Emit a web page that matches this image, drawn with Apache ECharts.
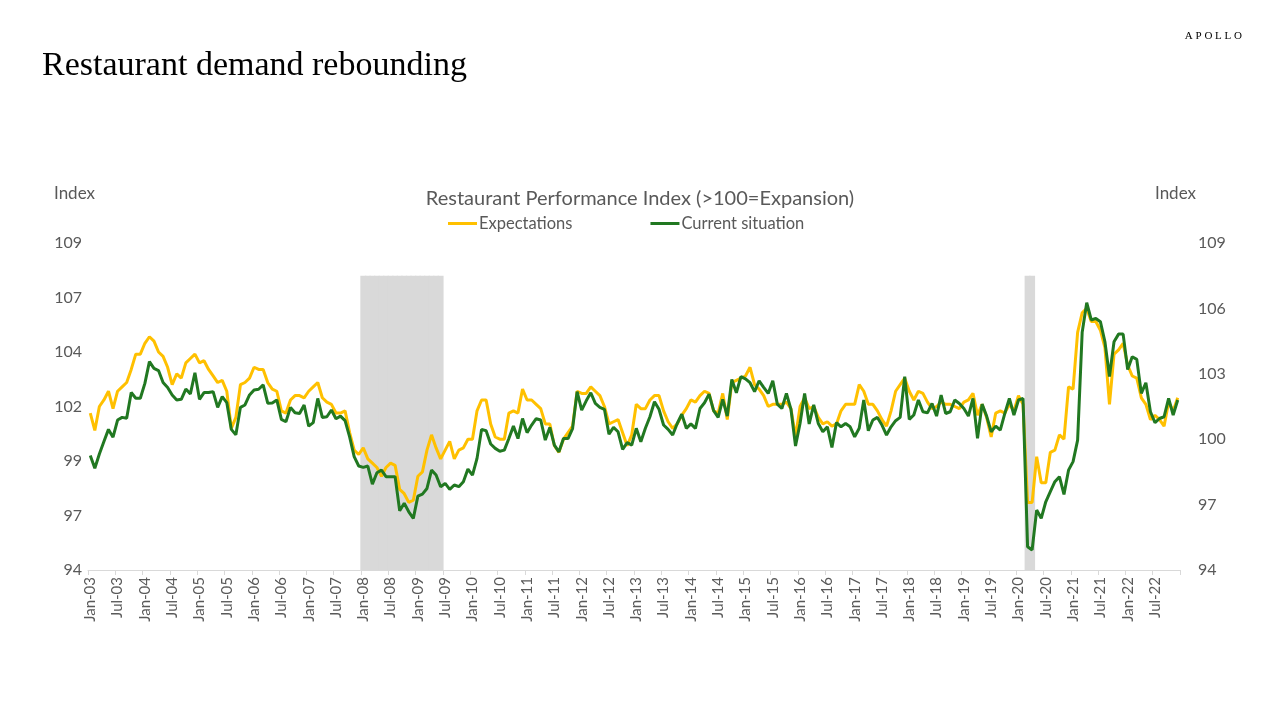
<!DOCTYPE html>
<html>
<head>
<meta charset="utf-8">
<script src="https://cdn.jsdelivr.net/npm/echarts@6/dist/echarts.min.js"></script>
<style>html,body{margin:0;padding:0;background:#fff}#chart{width:1280px;height:720px}</style>
</head>
<body>
<div id="chart"></div>
<script>
const monthNames = ['Jan','Feb','Mar','Apr','May','Jun','Jul','Aug','Sep','Oct','Nov','Dec'];
const firstYear = 2003;
const lastYear = 2022;

const expectations = [
  101.2, 100.4, 101.5, 101.8, 102.2, 101.4, 102.2, 102.4, 102.6, 103.2,
  103.9, 103.9, 104.4, 104.7, 104.5, 104.0, 103.8, 103.3, 102.5, 103.0,
  102.8, 103.5, 103.7, 103.9, 103.5, 103.6, 103.2, 102.9, 102.6, 102.7,
  102.2, 100.5, 101.0, 102.5, 102.6, 102.8, 103.3, 103.2, 103.2, 102.6,
  102.3, 102.2, 101.3, 101.2, 101.8, 102.0, 102.0, 101.9, 102.2, 102.4,
  102.6, 101.9, 101.7, 101.6, 101.2, 101.2, 101.3, 100.3, 99.5, 99.3,
  99.6, 99.1, 98.9, 98.7, 98.3, 98.7, 98.9, 98.8, 97.7, 97.5,
  97.1, 97.2, 98.3, 98.5, 99.5, 100.2, 99.6, 99.1, 99.5, 99.9,
  99.1, 99.5, 99.6, 100.0, 100.0, 101.3, 101.8, 101.8, 100.7, 100.1,
  100.0, 100.0, 101.2, 101.3, 101.2, 102.3, 101.8, 101.8, 101.6, 101.4,
  100.7, 100.7, 99.7, 99.4, 100.0, 100.3, 100.6, 102.2, 102.1, 102.1,
  102.4, 102.2, 102.0, 101.5, 100.7, 100.8, 100.9, 100.3, 99.7, 100.2,
  101.6, 101.4, 101.4, 101.8, 102.0, 102.0, 101.3, 100.8, 100.5, 100.7,
  101.1, 101.4, 101.8, 101.7, 102.0, 102.2, 102.1, 101.3, 101.2, 102.1,
  100.9, 102.6, 102.7, 102.8, 102.9, 103.3, 102.5, 102.3, 102.0, 101.5,
  101.6, 101.6, 101.6, 101.7, 101.4, 100.1, 101.5, 101.9, 101.4, 101.5,
  101.0, 100.7, 100.8, 100.6, 100.7, 101.3, 101.6, 101.6, 101.6, 102.5,
  102.2, 101.6, 101.6, 101.3, 100.9, 100.6, 101.3, 102.2, 102.5, 102.8,
  102.2, 101.8, 102.2, 102.1, 101.7, 101.4, 101.5, 101.7, 101.6, 101.6,
  101.5, 101.4, 101.7, 101.8, 102.1, 101.1, 101.6, 101.0, 100.1, 101.2,
  101.3, 101.2, 101.6, 101.3, 102.0, 101.6, 97.1, 97.1, 99.2, 98.0,
  98.0, 99.4, 99.5, 100.2, 100.0, 102.4, 102.3, 104.9, 105.8, 106.0,
  105.4, 105.4, 105.0, 104.2, 101.6, 103.9, 104.1, 104.4, 103.4, 102.9,
  102.8, 101.9, 101.6, 100.9, 101.1, 100.9, 100.6, 101.7, 101.3, 101.9
];

const currentSituation = [
  99.25, 98.67, 99.32, 99.89, 100.45, 100.09, 100.88, 101.0, 100.96, 102.14,
  101.88, 101.88, 102.56, 103.56, 103.25, 103.15, 102.6, 102.37, 102.03, 101.8,
  101.83, 102.3, 102.08, 103.05, 101.83, 102.14, 102.14, 102.18, 101.46, 101.95,
  101.68, 100.45, 100.2, 101.46, 101.57, 102.03, 102.26, 102.29, 102.49, 101.65,
  101.66, 101.8, 100.91, 100.8, 101.46, 101.21, 101.18, 101.57, 100.6, 100.76,
  101.87, 101.0, 101.03, 101.34, 100.94, 101.06, 100.85, 100.11, 99.2, 98.77,
  98.71, 98.77, 97.94, 98.46, 98.58, 98.28, 98.28, 98.28, 96.72, 97.06,
  96.67, 96.37, 97.39, 97.48, 97.74, 98.58, 98.36, 97.82, 97.97, 97.7,
  97.9, 97.82, 98.05, 98.63, 98.35, 99.12, 100.45, 100.39, 99.78, 99.58,
  99.45, 99.5, 100.03, 100.6, 100.03, 100.95, 100.3, 100.65, 100.94, 100.88,
  99.96, 100.54, 99.73, 99.42, 100.03, 100.03, 100.49, 102.18, 101.33, 101.76,
  102.13, 101.64, 101.46, 101.37, 100.23, 100.54, 100.34, 99.53, 99.84, 99.73,
  100.5, 99.88, 100.5, 101.03, 101.72, 101.37, 100.65, 100.45, 100.19, 100.72,
  101.15, 100.5, 100.7, 100.5, 101.41, 101.67, 102.07, 101.31, 101.0, 101.83,
  101.06, 102.74, 102.13, 102.87, 102.77, 102.59, 102.18, 102.68, 102.38, 102.1,
  102.68, 101.61, 101.41, 102.1, 101.37, 99.69, 100.73, 102.1, 100.7, 101.57,
  100.72, 100.34, 100.57, 99.62, 100.76, 100.57, 100.72, 100.57, 100.11, 100.5,
  101.8, 100.39, 100.88, 101.0, 100.65, 100.19, 100.57, 100.85, 101.0, 102.87,
  100.91, 101.11, 101.8, 101.26, 101.21, 101.64, 101.06, 102.02, 101.18, 101.26,
  101.8, 101.64, 101.41, 101.06, 101.87, 100.04, 101.61, 101.06, 100.34, 100.6,
  100.42, 101.18, 101.87, 101.11, 101.8, 101.87, 95.07, 94.92, 96.75, 96.37,
  97.13, 97.59, 98.05, 98.28, 97.47, 98.58, 98.97, 99.96, 104.9, 106.26,
  105.47, 105.54, 105.39, 104.47, 102.87, 104.47, 104.82, 104.82, 103.2, 103.78,
  103.66, 102.1, 102.59, 101.26, 100.76, 100.95, 101.03, 101.87, 101.11, 101.8
];

const recessionRanges = [['Jan-08', 'Jun-09'], ['Mar-20', 'Apr-20']];
const shadeLevel = 107.5;

const leftTickValues = [94, 96.5, 99, 101.5, 104, 106.5, 109];
const rightTickValues = [94, 97, 100, 103, 106, 109];

const categories = [];
for (let y = firstYear; y <= lastYear; y++) {
  for (const m of monthNames) categories.push(m + '-' + String(y % 100).padStart(2, '0'));
}
const shading = categories.map(() => '-');
recessionRanges.forEach(([a, b]) => {
  const s = categories.indexOf(a), e = categories.indexOf(b);
  for (let i = s; i <= e; i++) shading[i] = shadeLevel;
});

const FONT = 'Lato, "Noto Sans", sans-serif';
const GRAY = '#595959';

const chart = echarts.init(document.getElementById('chart'));
chart.setOption({
  backgroundColor: '#ffffff',
  animation: false,
  title: {
    text: 'Restaurant Performance Index (>100=Expansion)',
    left: 'center',
    top: 184,
    textStyle: { fontFamily: FONT, fontSize: 20, fontWeight: 'normal', color: GRAY }
  },
  legend: {
    data: ['Expectations', 'Current situation'],
    left: 443,
    top: 210,
    itemWidth: 29,
    itemHeight: 3,
    itemGap: 78,
    icon: 'rect',
    textStyle: { fontFamily: FONT, fontSize: 16.5, color: GRAY, padding: [0, 0, 0, -3] }
  },
  graphic: [
    { type: 'text', left: 42, top: 49, style: { text: 'Restaurant demand rebounding', font: '34px "Liberation Serif", "DejaVu Serif", serif', fill: '#000' } },
    { type: 'text', right: 38, top: 31, style: { text: 'A P O L L O', font: '11px "Liberation Serif", serif', fill: '#000' } },
    { type: 'text', left: 54, top: 185, style: { text: 'Index', font: '17px ' + FONT, fill: GRAY } },
    { type: 'text', left: 1155, top: 185, style: { text: 'Index', font: '17px ' + FONT, fill: GRAY } }
  ],
  grid: { left: 88, right: 100, top: 243, bottom: 150, containLabel: false },
  xAxis: {
    type: 'category',
    data: categories,
    boundaryGap: true,
    axisLine: { lineStyle: { color: '#d9d9d9', width: 1 } },
    axisTick: { show: true, interval: 5, length: 5, lineStyle: { color: '#d9d9d9' } },
    axisLabel: { interval: 5, rotate: 90, fontFamily: FONT, fontSize: 15, color: GRAY, margin: 7 },
    splitLine: { show: false }
  },
  yAxis: [
    {
      type: 'value', min: 94, max: 109, position: 'left',
      axisLine: { show: false }, axisTick: { show: false }, splitLine: { show: false },
      axisLabel: { customValues: leftTickValues, formatter: v => String(Math.round(v)), fontFamily: FONT, fontSize: 16, color: GRAY, margin: 6 }
    },
    {
      type: 'value', min: 94, max: 109, position: 'right',
      axisLine: { show: false }, axisTick: { show: false }, splitLine: { show: false },
      axisLabel: { customValues: rightTickValues, formatter: v => String(v), fontFamily: FONT, fontSize: 16, color: GRAY, margin: 18 }
    }
  ],
  series: [
    {
      name: 'Recession', type: 'bar', data: shading, yAxisIndex: 0,
      barWidth: '130%', silent: true, z: 1,
      itemStyle: { color: '#d9d9d9' }
    },
    {
      name: 'Expectations', type: 'line', data: expectations, yAxisIndex: 0,
      symbol: 'none', z: 3, color: '#FFC000',
      lineStyle: { color: '#FFC000', width: 3 }
    },
    {
      name: 'Current situation', type: 'line', data: currentSituation, yAxisIndex: 1,
      symbol: 'none', z: 4, color: '#217821',
      lineStyle: { color: '#217821', width: 3 }
    }
  ]
});
</script>
</body>
</html>
